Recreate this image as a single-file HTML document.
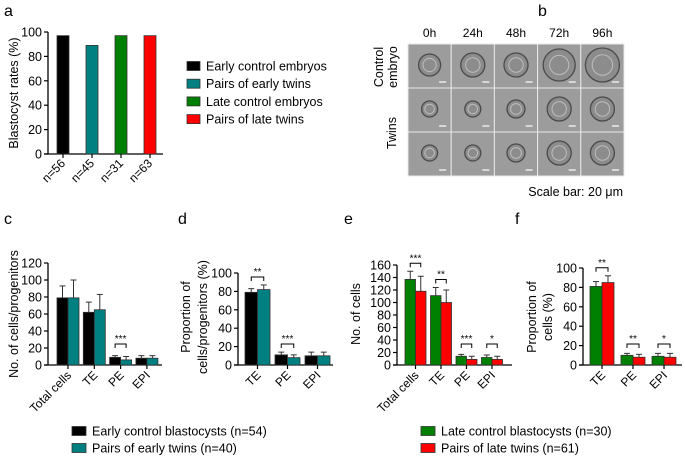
<!DOCTYPE html>
<html><head><meta charset="utf-8"><style>
html,body{margin:0;padding:0;background:#fff;}
svg{display:block;font-family:"Liberation Sans",Arial,sans-serif;}
</style></head><body>
<svg id="fig" width="685" height="457" viewBox="0 0 685 457" xmlns="http://www.w3.org/2000/svg"></svg>
<script>
// ---- Panel a data ----
const aCats = ["n=56","n=45","n=31","n=63"];
const aVals = [97, 89, 97, 97];
const aTicks = [0,20,40,60,80,100];
const aLegend = ["Early control embryos","Pairs of early twins","Late control embryos","Pairs of late twins"];
// ---- Panel c data ----
const cCats = ["Total cells","TE","PE","EPI"];
const cCtrl = [79, 62, 9, 8];
const cCtrlErr = [14, 12, 2, 3];
const cTwin = [79, 65, 6, 8];
const cTwinErr = [21, 18, 4, 3];
const cTicks = [0,20,40,60,80,100,120];
const cSig = ["","","***",""];
// ---- Panel d data ----
const dCats = ["TE","PE","EPI"];
const dCtrl = [79, 11, 10];
const dCtrlErr = [4, 3, 4];
const dTwin = [82, 8, 10];
const dTwinErr = [5, 3, 4];
const dTicks = [0,20,40,60,80,100];
const dSig = ["**","***",""];
// ---- Panel e data ----
const eCats = ["Total cells","TE","PE","EPI"];
const eCtrl = [137, 111, 14, 12];
const eCtrlErr = [13, 13, 3, 4];
const eTwin = [118, 100, 9, 9];
const eTwinErr = [24, 20, 5, 5];
const eTicks = [0,20,40,60,80,100,120,140,160];
const eSig = ["***","**","***","*"];
// ---- Panel f data ----
const fCats = ["TE","PE","EPI"];
const fCtrl = [81, 10, 9];
const fCtrlErr = [5, 2, 3];
const fTwin = [85, 8, 8];
const fTwinErr = [7, 3, 4];
const fTicks = [0,20,40,60,80,100];
const fSig = ["**","**","*"];

const COLORS = {black:"#000000", teal:"#008080", green:"#008000", red:"#ff0000"};
const NS = "http://www.w3.org/2000/svg";
const svg = document.getElementById("fig");
function mk(tag, attrs, parent, text){
  const e = document.createElementNS(NS, tag);
  for (const k in attrs) e.setAttribute(k, attrs[k]);
  if (text !== undefined) e.textContent = text;
  (parent||svg).appendChild(e);
  return e;
}
function txt(x,y,s,size,anchor,rot,name){
  const t = mk("text",{x:x,y:y,"font-size":size,"text-anchor":anchor||"start",fill:"#000"},svg,s);
  if (rot) t.setAttribute("transform","rotate("+rot+" "+x+" "+y+")");
  
  
  return t;
}
[["a",4,16],["b",538,16],["c",4,224],["d",178,224],["e",344,224],["f",515,224]].forEach(p=>{
  txt(p[1],p[2],p[0],16,"start",0,"panel-letter-"+p[0]);
});

function axis(x0, yBase, yTop, xEnd, ticks, maxV){
  const g = mk("g",{});
  
  
  const ys = v => yBase - (v/maxV)*(yBase-yTop);
  mk("line",{x1:x0,y1:ys(ticks[ticks.length-1]),x2:x0,y2:yBase,stroke:"#000","stroke-width":1.3},g);
  mk("line",{x1:x0-4,y1:yBase,x2:xEnd,y2:yBase,stroke:"#000","stroke-width":1.3},g);
  ticks.forEach(t=>{
    mk("line",{x1:x0-4,y1:ys(t),x2:x0,y2:ys(t),stroke:"#000","stroke-width":1.2},g);
    txt(x0-6, ys(t)+4.5, String(t), 12.5, "end", 0, "y-tick-label");
  });
  return ys;
}

// ---- Panel a ----
(function(){
  const x0=48, yB=154, yT=32, xEnd=163;
  const ys = axis(x0,yB,yT,xEnd,aTicks,100);
  const cols=[COLORS.black,COLORS.teal,COLORS.green,COLORS.red];
  const step=29, bw=12;
  aCats.forEach((c,i)=>{
    const cx = 63 + i*step;
    const r = mk("rect",{x:cx-bw/2,y:ys(aVals[i]),width:bw,height:yB-ys(aVals[i]),fill:cols[i],stroke:"#333","stroke-width":0.8});
    
    
    mk("line",{x1:cx,y1:yB,x2:cx,y2:yB+4,stroke:"#000","stroke-width":1.2});
    txt(cx+3, yB+10, c, 12, "end", -45, "x-tick-label");
  });
  txt(18, 93, "Blastocyst rates (%)", 12.5, "middle", -90, "y-axis-title");
  aLegend.forEach((s,i)=>{
    const y = 66 + i*17.7;
    const r = mk("rect",{x:187,y:y-4.5,width:13,height:9,fill:cols[i],stroke:"#333","stroke-width":0.8});
    
    
    txt(206, y+4.5, s, 12.5, "start", 0, "legend-entry");
  });
})();

// ---- Panel b (microscopy grid) ----
(function(){
  const gx=408, gy=44, cw=43.2, ch=44;
  const heads=["0h","24h","48h","72h","96h"];
  heads.forEach((h,i)=>txt(gx+cw*i+cw/2, 37, h, 12, "middle", 0, "time-label"));
  const sizes=[[11,12,12,16,17],[8,8,9,12,12],[8,8,9,12,12]];
  for(let r=0;r<3;r++)for(let c=0;c<5;c++){
    const x=gx+c*cw, y=gy+r*ch;
    const cell = mk("rect",{x:x,y:y,width:cw,height:ch,fill:"#9c9c9c",stroke:"#e8e8e8","stroke-width":1});
    
    
    const s=sizes[r][c];
    mk("circle",{cx:x+cw/2,cy:y+ch/2-1,r:s,fill:"#8c8c8c",stroke:"#4a4a4a","stroke-width":1.3});
    mk("circle",{cx:x+cw/2,cy:y+ch/2-1,r:s*0.6,fill:"none",stroke:"#bdbdbd","stroke-width":1});
    mk("line",{x1:x+cw-12,y1:y+ch-6,x2:x+cw-5,y2:y+ch-6,stroke:"#fff","stroke-width":1.2});
  }
  txt(383, 67, "Control", 12.5, "middle", -90, "row-label-control");
  txt(397, 67, "embryo", 12.5, "middle", -90, "row-label-control");
  txt(396, 133, "Twins", 12.5, "middle", -90, "row-label-twins");
  txt(623, 196, "Scale bar: 20 \u03bcm", 12.5, "end", 0, "scale-bar-label");
})();

function grouped(o){
  const ys = axis(o.x0,o.yB,o.yT,o.xEnd,o.ticks,o.ticks[o.ticks.length-1]);
  o.cats.forEach((c,i)=>{
    const gx = o.first + i*o.step;
    [[o.ctrl,o.ctrlErr,o.c1,gx],[o.twin,o.twinErr,o.c2,gx+o.bw]].forEach((s,k)=>{
      const v=s[0][i], e=s[1][i], bx=s[3];
      const cx = bx+o.bw/2;
      mk("line",{x1:cx,y1:ys(v+e),x2:cx,y2:ys(v),stroke:"#333","stroke-width":1});
      mk("line",{x1:cx-3,y1:ys(v+e),x2:cx+3,y2:ys(v+e),stroke:"#333","stroke-width":1});
      const r = mk("rect",{x:bx,y:ys(v),width:o.bw,height:o.yB-ys(v),fill:s[2],stroke:"#333","stroke-width":0.8});
      
      
    });
    mk("line",{x1:gx+o.bw,y1:o.yB,x2:gx+o.bw,y2:o.yB+4,stroke:"#000","stroke-width":1.2});
    txt(gx+o.bw+4, o.yB+11, c, 12, "end", -45, "x-tick-label");
    if (o.sig[i]){
      const top = Math.max(o.ctrl[i]+o.ctrlErr[i], o.twin[i]+o.twinErr[i]);
      const by = Math.min(ys(top)-8, o.yB-21);
      const l=gx+o.bw/2, rr=gx+o.bw*1.5;
      mk("path",{d:`M${l} ${by+4}V${by}H${rr}V${by+4}`,fill:"none",stroke:"#000","stroke-width":1});
      txt((l+rr)/2, by-2, o.sig[i], 10, "middle", 0, "significance-stars");
    }
  });
}
grouped({x0:48,yB:365,yT:263,xEnd:162,ticks:cTicks,cats:cCats,ctrl:cCtrl,ctrlErr:cCtrlErr,twin:cTwin,twinErr:cTwinErr,sig:cSig,first:57,step:26.3,bw:11,c1:COLORS.black,c2:COLORS.teal});
txt(18, 314, "No. of cells/progenitors", 12.5, "middle", -90, "y-axis-title");
grouped({x0:238,yB:365,yT:273,xEnd:333,ticks:dTicks,cats:dCats,ctrl:dCtrl,ctrlErr:dCtrlErr,twin:dTwin,twinErr:dTwinErr,sig:dSig,first:245,step:30,bw:12.5,c1:COLORS.black,c2:COLORS.teal});
txt(190, 317, "Proportion of", 12.5, "middle", -90, "y-axis-title");
txt(207, 317, "cells/progenitors (%)", 12.5, "middle", -90, "y-axis-title");
grouped({x0:397,yB:365,yT:265,xEnd:512,ticks:eTicks,cats:eCats,ctrl:eCtrl,ctrlErr:eCtrlErr,twin:eTwin,twinErr:eTwinErr,sig:eSig,first:405,step:25.5,bw:10.5,c1:COLORS.green,c2:COLORS.red});
txt(360, 314, "No. of cells", 12.5, "middle", -90, "y-axis-title");
grouped({x0:583,yB:365,yT:268,xEnd:682,ticks:fTicks,cats:fCats,ctrl:fCtrl,ctrlErr:fCtrlErr,twin:fTwin,twinErr:fTwinErr,sig:fSig,first:590,step:31,bw:12,c1:COLORS.green,c2:COLORS.red});
txt(536, 317, "Proportion of", 12.5, "middle", -90, "y-axis-title");
txt(552, 317, "cells (%)", 12.5, "middle", -90, "y-axis-title");

[[72,"Early control blastocysts (n=54)",COLORS.black,431],[72,"Pairs of early twins (n=40)",COLORS.teal,448],
 [421,"Late control blastocysts (n=30)",COLORS.green,431],[421,"Pairs of late twins (n=61)",COLORS.red,448]].forEach(l=>{
  const r = mk("rect",{x:l[0],y:l[3]-4.5,width:14,height:9,fill:l[2],stroke:"#333","stroke-width":0.8});
  
  
  txt(l[0]+20, l[3]+4.5, l[1], 12.5, "start", 0, "legend-entry");
});
</script>
</body></html>
